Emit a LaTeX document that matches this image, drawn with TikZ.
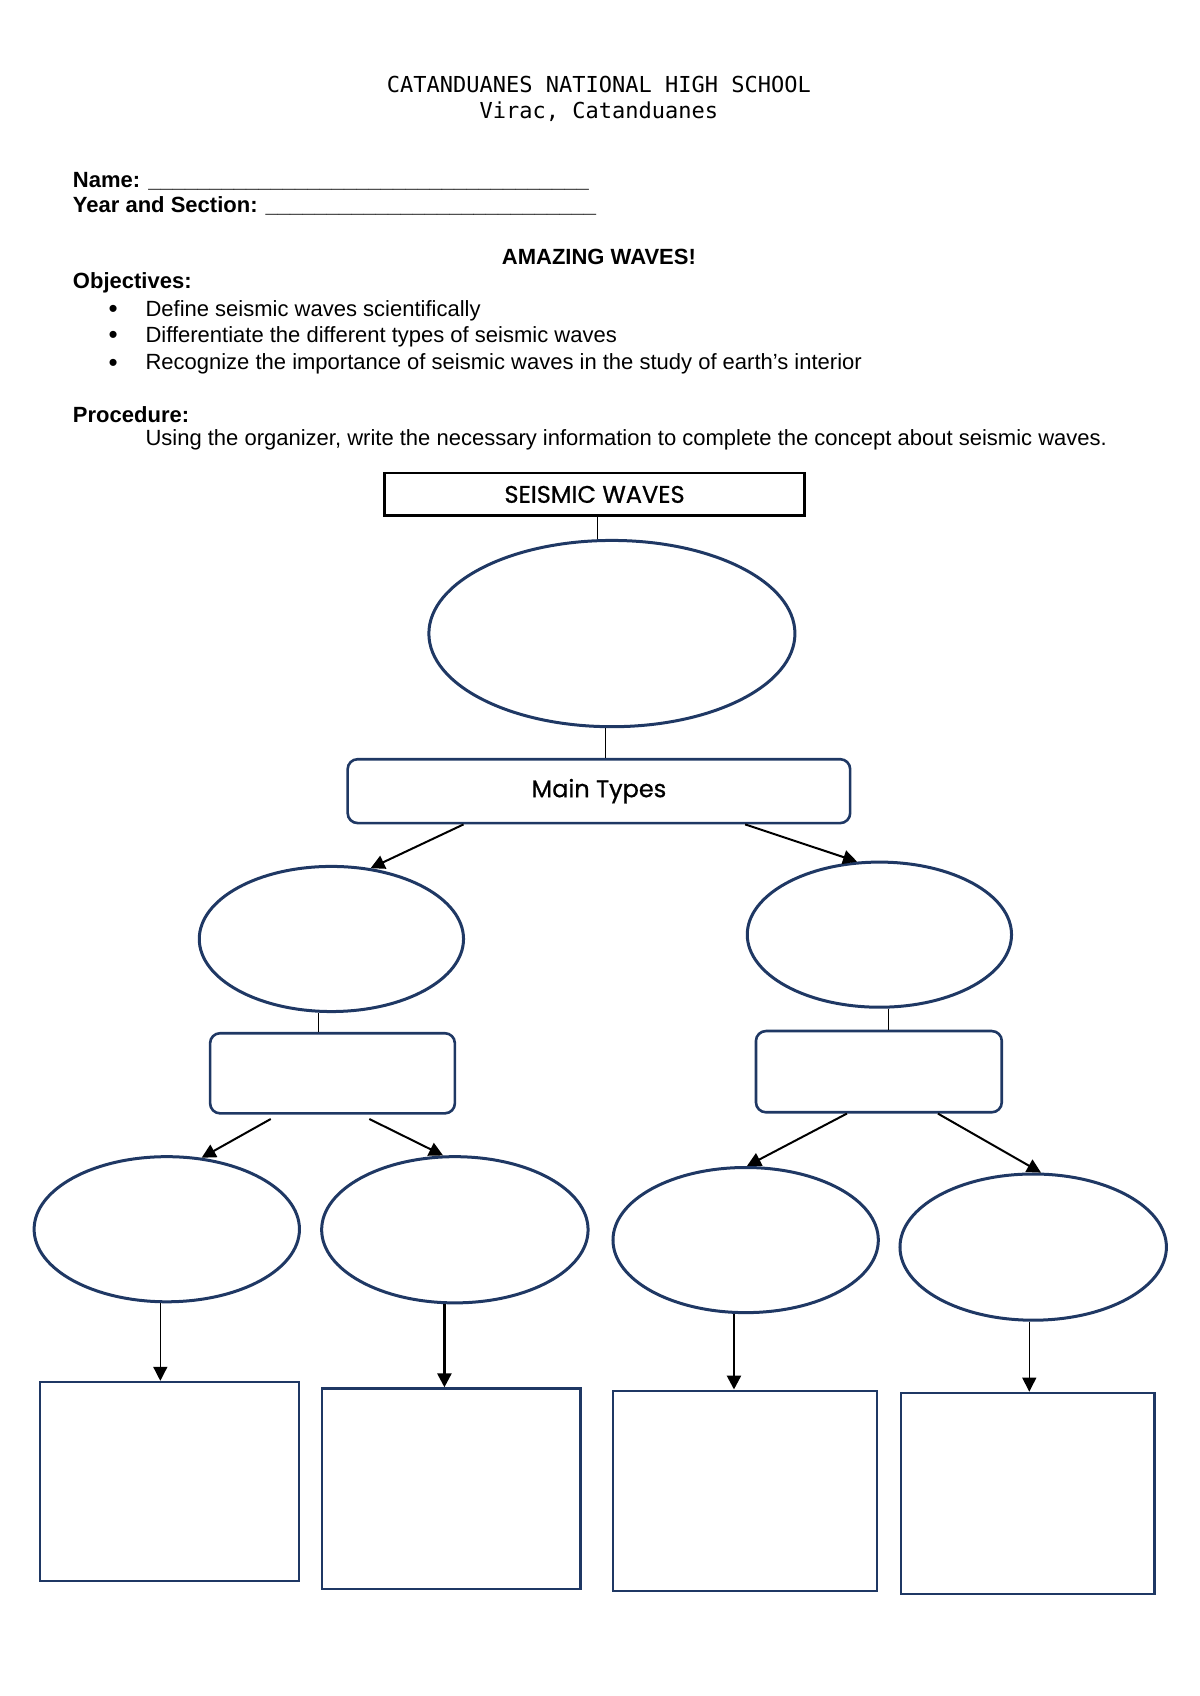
\documentclass[tikz,border=0pt]{standalone}
\usepackage{fontspec}
\setmainfont{Liberation Sans}
\setmonofont{DejaVu Sans Mono}
\newfontfamily\gothic[FakeBold=0.8]{Poppins}
\usetikzlibrary{shapes.geometric,arrows.meta}
\definecolor{navy}{RGB}{31,56,100}
\newlength\px
\setlength\px{0.0190217cm}
\tikzset{
  oval/.style 2 args={ellipse,draw=navy,line width=1.5pt,inner sep=0pt,minimum width=#1\px,minimum height=#2\px},
  tbox/.style 2 args={rectangle,rounded corners=5pt,draw=navy,line width=1.3pt,inner sep=0pt,minimum width=#1\px,minimum height=#2\px},
  ansbox/.style 2 args={rectangle,draw=navy,line width=1.1pt,inner sep=0pt,minimum width=#1\px,minimum height=#2\px},
  arr/.style={-{Triangle[length=7pt,width=7pt]},line width=1pt},
  link/.style={line width=0.5pt},
  txt/.style={anchor=west,inner sep=0pt,font=\fontsize{11}{13}\selectfont},
  dot/.style={inner sep=0pt,font=\fontsize{13}{13}\selectfont},
}
\begin{document}
\begin{tikzpicture}[x=\px,y=-\px]
  \useasboundingbox (0,0) rectangle (1108,1566);
  % heading
  \node[inner sep=0pt] (school) at (553,78) {\ttfamily\fontsize{11}{13}\selectfont CATANDUANES NATIONAL HIGH SCHOOL};
  \node[inner sep=0pt] (town) at (553,103) {\ttfamily\fontsize{11}{13}\selectfont Virac, Catanduanes};
  \node[txt] (name) at (67,167) {\bfseries Name: \_\_\_\_\_\_\_\_\_\_\_\_\_\_\_\_\_\_\_\_\_\_\_\_\_\_\_\_\_\_\_\_\_\_\_\_};
  \node[txt] (year) at (67,190) {\bfseries Year and Section: \_\_\_\_\_\_\_\_\_\_\_\_\_\_\_\_\_\_\_\_\_\_\_\_\_\_\_};
  \node[inner sep=0pt,font=\fontsize{11}{13}\selectfont\bfseries] (amazing) at (553,237) {AMAZING WAVES!};
  \node[txt] (objectives) at (67,261) {\bfseries Objectives:};
  \node[dot] (dot1) at (104.5,288) {\textbullet};
  \node[txt] (obj1) at (134,287) {Define seismic waves scientifically};
  \node[dot] (dot2) at (104.5,312) {\textbullet};
  \node[txt] (obj2) at (134,311) {Differentiate the different types of seismic waves};
  \node[dot] (dot3) at (104.5,337) {\textbullet};
  \node[txt] (obj3) at (134,336) {Recognize the importance of seismic waves in the study of earth's interior};
  \node[txt] (procedure) at (67,383) {\bfseries Procedure:};
  \node[txt] (using) at (134,406) {Using the organizer, write the necessary information to complete the concept about seismic waves.};

  % organizer
  \node[rectangle,draw,line width=1.2pt,minimum width=388\px,minimum height=39\px,font=\gothic\fontsize{12}{14}\selectfont] (waves) at (549,456.5) {SEISMIC WAVES};
  \node[oval={338}{172}] (define) at (565,585) {};
  \node[tbox={464}{59},font=\gothic\fontsize{12}{14}\selectfont] (types) at (553,730.5) {Main Types};
  \node[oval={244}{134}] (typeL) at (306,867) {};
  \node[oval={244}{134}] (typeR) at (812,863) {};
  \node[tbox={226}{74}] (kindL) at (307,991) {};
  \node[tbox={227}{75}] (kindR) at (811.5,989.5) {};
  \node[oval={245}{134}] (wave1) at (154,1135) {};
  \node[oval={246}{135}] (wave2) at (420,1135.5) {};
  \node[oval={245}{134}] (wave3) at (688.5,1145) {};
  \node[oval={246}{135}] (wave4) at (954,1151.5) {};
  \node[ansbox={239}{184}] (ans1) at (156.5,1368) {};
  \node[ansbox={239}{185}] (ans2) at (416.5,1374.5) {};
  \node[ansbox={244}{185}] (ans3) at (688,1376.5) {};
  \node[ansbox={234}{186}] (ans4) at (949,1379) {};

  \draw[link] ([xshift=3\px]waves.south) -- ([xshift=3\px]waves.south |- define.north);
  \draw[link] (define.266) -- (define.266 |- types.north);
  \draw[arr] ([xshift=-125\px]types.south) -- (typeL.61);
  \draw[arr] ([xshift=135\px]types.south) -- (typeR.107);
  \draw[link] (typeL.260) -- (typeL.260 |- kindL.north);
  \draw[link] (typeR.277) -- (typeR.277 |- kindR.north);
  \draw[arr] ([xshift=-57\px,yshift=-4\px]kindL.south) -- (wave1.64);
  \draw[arr] ([xshift=34\px,yshift=-4\px]kindL.south) -- (wave2.99);
  \draw[arr] ([xshift=-29.5\px]kindR.south) -- (wave3.89);
  \draw[arr] ([xshift=54.5\px]kindR.south) -- (wave4.84);
  \draw[arr,line width=0.7pt] (wave1.265) -- (wave1.265 |- ans1.north);
  \draw[arr,line width=1.3pt] (wave2.262) -- (wave2.262 |- ans2.north);
  \draw[arr,line width=1.3pt] (wave3.261) -- (wave3.261 |- ans3.north);
  \draw[arr,line width=0.7pt] (wave4.267) -- (wave4.267 |- ans4.north);
\end{tikzpicture}
\end{document}
